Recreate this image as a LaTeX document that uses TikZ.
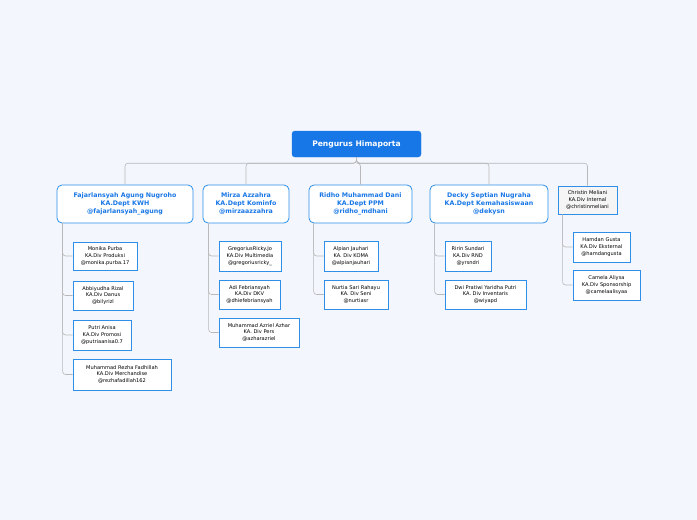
\documentclass[tikz,border=0pt]{standalone}
\usepackage{fontspec}
\setmainfont{DejaVu Sans}
\usetikzlibrary{calc}
\definecolor{bg}{HTML}{F3F6FD}
\definecolor{mblue}{HTML}{1877E6}
\definecolor{lblue}{HTML}{2F8FE8}
\definecolor{cline}{HTML}{B8B8B8}
\tikzset{
  rootbox/.style={draw=mblue,fill=mblue,rounded corners=3pt,text=white,font=\fontsize{7.6}{9}\selectfont\bfseries,minimum width=129pt,minimum height=26pt,inner sep=1pt},
  deptbox/.style={draw=lblue,line width=0.8pt,fill=white,rounded corners=5pt,text=mblue,font=\fontsize{6.3}{8}\selectfont\bfseries,align=center,minimum height=38pt,inner sep=2pt},
  ibox/.style={draw=lblue,line width=0.9pt,fill=white,font=\fontsize{5.1}{6.8}\selectfont,align=center,inner sep=1.5pt},
  xbox/.style={draw=lblue,line width=0.9pt,fill=black!4,font=\fontsize{5.1}{6.8}\selectfont,align=center,inner sep=1.5pt},
  conn/.style={draw=cline,line width=0.6pt,rounded corners=3pt}
}
\begin{document}
\begin{tikzpicture}[x=1pt,y=-1pt]
\fill[bg] (0,0) rectangle (697,520);
\useasboundingbox (0,0) rectangle (697,520);
\node[rootbox] (root) at (356.5,144) {Pengurus Himaporta};
\node[deptbox,minimum width=136pt] (d1) at (125,204) {Fajarlansyah Agung Nugroho\\KA.Dept KWH\\@fajarlansyah\_agung};
\node[deptbox,minimum width=86pt] (d2) at (246,204) {Mirza Azzahra\\KA.Dept Kominfo\\@mirzaazzahra};
\node[deptbox,minimum width=103pt] (d3) at (360.5,204) {Ridho Muhammad Dani\\KA.Dept PPM\\@ridho\_mdhani};
\node[deptbox,minimum width=118pt] (d4) at (489,204) {Decky Septian Nugraha\\KA.Dept Kemahasiswaan\\@dekysn};
\node[xbox,minimum width=59pt,minimum height=28pt] (d5) at (587.5,200) {Christin Meliani\\KA.Div Internal\\@christinmeliani};
\foreach \d in {d1,d2,d3,d4,d5}{\draw[conn] (root.south) -- ++(0,6) -| (\d.north);}
% children
\node[ibox,minimum width=64pt,minimum height=28pt] (c11) at (105,256) {Monika Purba\\KA.Div Produksi\\@monika.purba.17};
\node[ibox,minimum width=60pt,minimum height=29pt] (c12) at (103,295.5) {Abbiyudha Rizal\\KA.Div Danus\\@bilyrizl};
\node[ibox,minimum width=58pt,minimum height=30pt] (c13) at (102,335) {Putri Anisa\\KA.Div Promosi\\@putriaanisa0.7};
\node[ibox,minimum width=98pt,minimum height=31pt] (c14) at (122,374.5) {Muhammad Rezha Fadhillah\\KA.Div Merchandise\\@rezhafadillah162};
\node[ibox,minimum width=62pt,minimum height=30pt] (c21) at (250,256) {GregoriusRicky.Jo\\KA.Div Multimedia\\@gregoriusricky\_};
\node[ibox,minimum width=61pt,minimum height=29pt] (c22) at (249.5,294.5) {Adi Febriansyah\\KA.Div DKV\\@dhiefebriansyah};
\node[ibox,minimum width=80pt,minimum height=29pt] (c23) at (259,332.5) {Muhammad Azriel Azhar\\KA. Div Pers\\@azharazriel};
\node[ibox,minimum width=54pt,minimum height=30pt] (c31) at (351,256) {Alpian Jauhari\\KA. Div KOMA\\@alpianjauhari};
\node[ibox,minimum width=64pt,minimum height=29pt] (c32) at (356,294.5) {Nurtia Sari Rahayu\\KA. Div Seni\\@nurtiasr};
\node[ibox,minimum width=46pt,minimum height=30pt] (c41) at (468,256) {Ririn Sundari\\KA.Div RND\\@yrsndri};
\node[ibox,minimum width=81pt,minimum height=29pt] (c42) at (485.5,294.5) {Dwi Pratiwi Yaridha Putri\\KA. Div Inventaris\\@wiyapd};
\node[ibox,minimum width=57pt,minimum height=30pt] (c51) at (601.5,247) {Hamdan Gusta\\KA.Div Eksternal\\@hamdangusta};
\node[ibox,minimum width=67pt,minimum height=30pt] (c52) at (606.5,285) {Camela Aliysa\\KA.Div Sponsorship\\@camelaalisyaa};
\coordinate (s1) at ($(d1.south west)+(6,0)$);
\coordinate (s2) at ($(d2.south west)+(6,0)$);
\coordinate (s3) at ($(d3.south west)+(5,0)$);
\coordinate (s4) at ($(d4.south west)+(5,0)$);
\coordinate (s5) at ($(d5.south west)+(5,0)$);
\foreach \s/\c in {s1/c11,s1/c12,s1/c13,s1/c14,s2/c21,s2/c22,s2/c23,s3/c31,s3/c32,s4/c41,s4/c42,s5/c51,s5/c52}{\draw[conn] (\s) |- (\c.west);}
\end{tikzpicture}
\end{document}
